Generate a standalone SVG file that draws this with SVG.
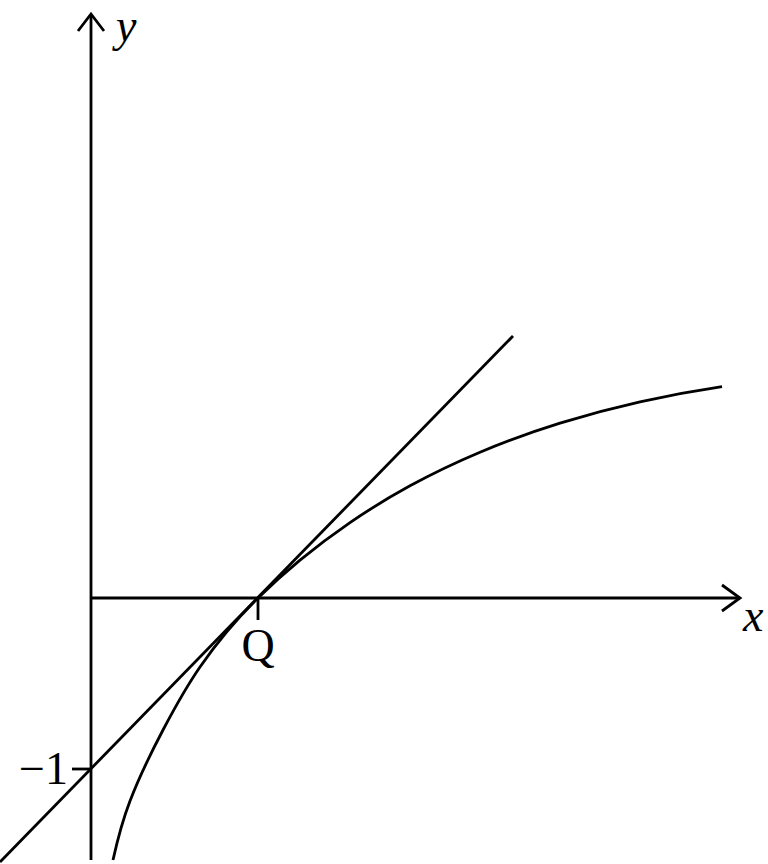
<svg xmlns="http://www.w3.org/2000/svg" width="768" height="864" viewBox="0 0 768 864">
<style>
.ln{fill:none;stroke:#000;stroke-width:2.8;stroke-linecap:butt;stroke-linejoin:miter}
.lbl{font-family:"Liberation Serif","Times New Roman",serif;font-size:46px;fill:#000}
.it{font-style:italic}
</style>
<rect width="768" height="864" fill="#fff"/>
<g id="axes">
<g id="y-axis">
<line class="ln" x1="91" y1="860" x2="91" y2="15"/>
<polyline class="ln" points="78,31 91,14 104,31"/>
<text class="lbl it" x="116" y="41">y</text>
</g>
<g id="x-axis">
<line class="ln" x1="91" y1="598" x2="740" y2="598"/>
<polyline class="ln" points="722,585 740,598 722,611"/>
<text class="lbl it" x="743" y="631">x</text>
</g>
<g id="tick-minus1">
<line class="ln" x1="72" y1="769" x2="91" y2="769"/>
<text class="lbl" x="19" y="784">−1</text>
</g>
<g id="tick-Q">
<line class="ln" x1="258" y1="598" x2="258" y2="620"/>
<text class="lbl" x="258" y="661" text-anchor="middle">Q</text>
</g>
</g>
<g id="connectors">
<line id="tangent" class="ln" x1="0" y1="862" x2="513" y2="336"/>
<path id="curve" class="ln" d="M113,860 C118.67,834.5 124.33,815.7 130,801 C141,772.4 152,750.9 163,730 C175.33,706.57 187.67,684.88 200,667 C219.33,638.97 238.67,616.85 258,598 C272,584.35 286,571.79 300,560.2 C316.67,546.4 333.33,534 350,522.6 C370,508.92 390,496.71 410,485.8 C433.33,473.07 456.67,462 480,452.2 C506.67,441 533.33,431.47 560,423.2 C586.67,414.93 613.33,407.86 640,401.9 C667.33,395.79 694.67,390.77 722,386.7"/>
</g>
</svg>
